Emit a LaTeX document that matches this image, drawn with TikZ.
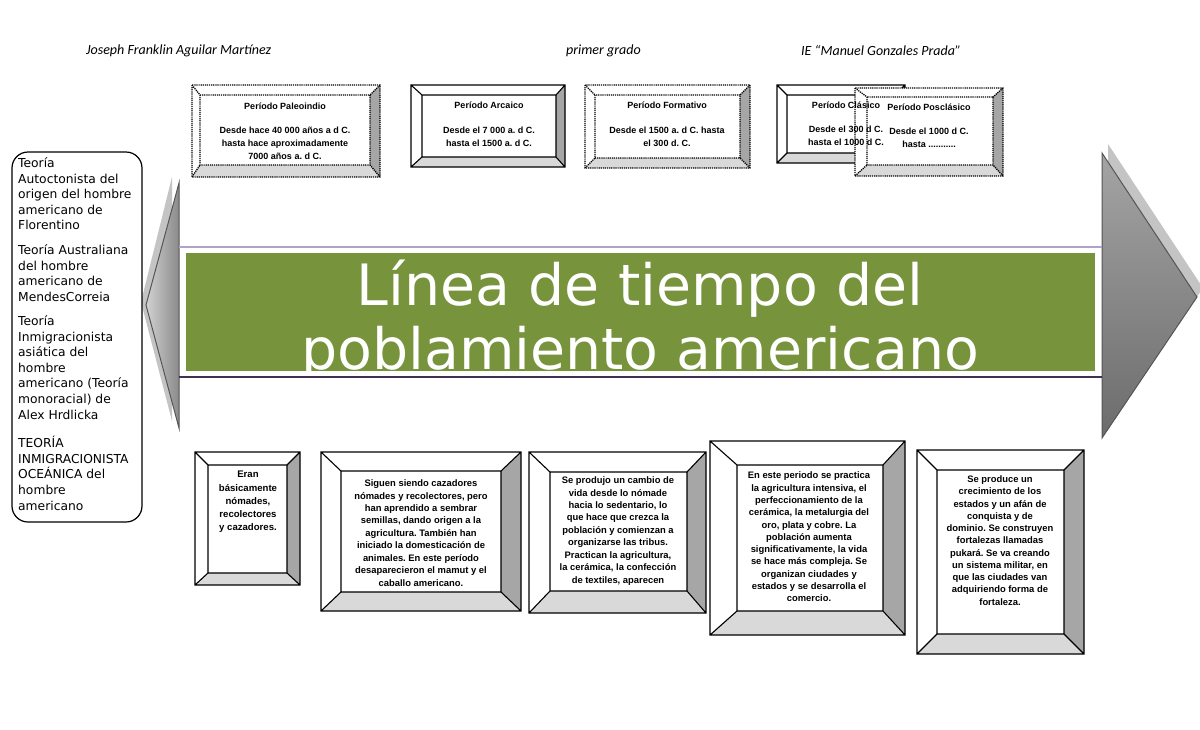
\documentclass[tikz,border=0pt]{standalone}
\usepackage{fontspec}
\newfontfamily\arialf{Liberation Sans}
\newfontfamily\dejavuf{DejaVu Sans}
\newfontfamily\calibrif{Carlito}
\frenchspacing
\definecolor{bandgreen}{HTML}{77933C}
\definecolor{lavline}{HTML}{B3A2C7}
\definecolor{darkline}{HTML}{403151}
\definecolor{bevR}{HTML}{A6A6A6}
\definecolor{bevB}{HTML}{D9D9D9}
\definecolor{arrShadow}{HTML}{C4C4C4}
\definecolor{arrLight}{HTML}{D2D2D2}
\definecolor{arrDark}{HTML}{8A8A8A}
\definecolor{arrTop}{HTML}{A4A4A4}
\definecolor{arrMid}{HTML}{CDCDCD}
\definecolor{arrBot}{HTML}{6C6C6C}
\definecolor{arrEdge}{HTML}{555555}
\newcommand\bevelframe[9]{%
  \fill[white] (#1,#2) rectangle (#3,#4);
  \fill[bevR] (#3,#2) -- (#3,#4) -- (#7,#8) -- (#7,#6) -- cycle;
  \fill[bevB] (#1,#4) -- (#3,#4) -- (#7,#8) -- (#5,#8) -- cycle;
  \draw[#9] (#1,#2) rectangle (#3,#4) (#5,#6) rectangle (#7,#8)
    (#1,#2) -- (#5,#6) (#3,#2) -- (#7,#6) (#3,#4) -- (#7,#8) (#1,#4) -- (#5,#8);
}
\tikzset{
  solidframe/.style={draw=black, line width=1.1pt},
  dotframe/.style={draw=black, line width=1.3pt, dash pattern=on 1.2pt off 0.9pt},
  toptext/.style={font=\arialf\bfseries\fontsize{9}{13}\selectfont, align=center, inner sep=0pt},
  bottext/.style 2 args={font=\arialf\bfseries\fontsize{#1}{#2}\selectfont, align=center, inner sep=0pt},
  header/.style={font=\calibrif\itshape\fontsize{14}{16}\selectfont, anchor=west, inner sep=0pt},
  titletext/.style={font=\dejavuf\fontsize{57}{64}\selectfont, text=white, anchor=base, inner sep=0pt},
  arrowedge/.style={draw=arrEdge, line width=1pt},
}
\begin{document}
\begin{tikzpicture}[x=1pt,y=-1pt]
\useasboundingbox (0,0) rectangle (1200,729);
\fill[white] (0,0) rectangle (1200,729);

% header
\node[header] (author) at (86,51) {Joseph Franklin Aguilar Martínez};
\node[header] (grade) at (566,51) {primer grado};
\node[header] (school) at (801,51) {IE “Manuel Gonzales Prada”};

% left arrow
\fill[arrShadow] (172,177) -- (141,302) -- (172,421) -- cycle;
\shade[left color=arrLight, right color=arrDark] (179,183) -- (146,305) -- (179,428) -- cycle;
\draw[arrowedge] (179,183) -- (146,305) -- (179,428) -- cycle;

% right arrow
\fill[arrShadow] (1108,144) -- (1203,288) -- (1108,429) -- cycle;
\shade[top color=arrTop, middle color=arrMid, bottom color=arrBot] (1102,153) -- (1197,297) -- (1102,438) -- cycle;
\draw[arrowedge] (1102,153) -- (1197,297) -- (1102,438) -- cycle;

% band
\draw[lavline, line width=1.6pt] (179,247) -- (1102,247);
\draw[darkline, line width=2pt] (179,377) -- (1102,377);
\fill[bandgreen] (186,253) rectangle (1095,371);
\begin{scope}
  \clip (186,253) rectangle (1095,371);
  \node[titletext] (title1) at (640,305) {Línea de tiempo del};
  \node[titletext] (title2) at (640,369) {poblamiento americano};
\end{scope}

% top frames
\bevelframe{192}{85}{380}{177}{200}{95}{370}{165}{dotframe}
\node[toptext] (paleo) at (285,131) {Período Paleoindio\\[11pt]Desde hace 40 000 años a d C.\\hasta hace aproximadamente\\7000 años a. d C.};
\bevelframe{411}{85}{565}{167}{422}{95}{556}{157}{solidframe}
\node[toptext] (arcaico) at (489,124) {Período Arcaico\\[11.5pt]Desde el 7 000 a. d C.\\hasta el 1500 a. d C.};
\bevelframe{585}{85}{750}{168}{595}{95}{740}{158}{dotframe}
\node[toptext] (formativo) at (667,124) {Período Formativo\\[11.5pt]Desde el 1500 a. d C. hasta\\el 300 d. C.};
\bevelframe{777}{85}{905}{163}{787}{95}{895}{153}{solidframe}
\bevelframe{855}{88}{1003}{176}{867}{97}{993}{165}{dotframe}
\node[toptext] (clasico) at (846,124) {Período Clásico\\[11pt]Desde el 300 d C.\\hasta el 1000 d C.};
\node[toptext] (posclasico) at (929,126) {Período Posclásico\\[11pt]Desde el 1000 d C.\\hasta ...........};

% bottom frames
\bevelframe{195}{452}{300}{585}{208}{465}{287}{573}{solidframe}
\node[bottext={9.6}{13.2}] (b1) at (248,502) {Eran\\básicamente\\nómades,\\recolectores\\y cazadores.};
\bevelframe{321}{452}{521}{611}{341}{471}{501}{592}{solidframe}
\node[bottext={9.4}{12.45}] (b2) at (421,533) {Siguen siendo cazadores\\nómades y recolectores, pero\\han aprendido a sembrar\\semillas, dando origen a la\\agricultura. También han\\iniciado la domesticación de\\animales. En este período\\desaparecieron el mamut y el\\caballo americano.};
\bevelframe{529}{452}{706}{613}{550}{472}{687}{591}{solidframe}
\node[bottext={9.4}{12.45}] (b3) at (618,531) {Se produjo un cambio de\\vida desde lo nómade\\hacia lo sedentario, lo\\que hace que crezca la\\población y comienzan a\\organizarse las tribus.\\Practican la agricultura,\\la cerámica, la confección\\de textiles, aparecen};
\bevelframe{710}{441}{905}{635}{737}{465}{883}{611}{solidframe}
\node[bottext={9.4}{12.3}] (b4) at (809,537) {En este periodo se practica\\la agricultura intensiva, el\\perfeccionamiento de la\\cerámica, la metalurgia del\\oro, plata y cobre. La\\población aumenta\\significativamente, la vida\\se hace más compleja. Se\\organizan ciudades y\\estados y se desarrolla el\\comercio.};
\bevelframe{917}{450}{1084}{654}{937}{470}{1064}{634}{solidframe}
\node[bottext={9.4}{12.25}] (b5) at (1000,540.5) {Se produce un\\crecimiento de los\\estados y un afán de\\conquista y de\\dominio. Se construyen\\fortalezas llamadas\\pukará. Se va creando\\un sistema militar, en\\que las ciudades van\\adquiriendo forma de\\fortaleza.};

% left rounded box
\draw[line width=1.2pt, rounded corners=16pt, fill=white] (12,152) rectangle (142,522);
\node[font=\dejavuf\fontsize{12.3}{15.6}\selectfont, align=left, anchor=north west, inner sep=0pt] (theories) at (18,157.5)
 {Teoría\\Autoctonista del\\origen del hombre\\americano de\\Florentino\\[9pt]Teoría Australiana\\del hombre\\americano de\\MendesCorreia\\[8.5pt]Teoría\\Inmigracionista\\asiática del\\hombre\\americano (Teoría\\monoracial) de\\Alex Hrdlicka\\[13pt]TEORÍA\\INMIGRACIONISTA\\OCEÁNICA del\\hombre\\americano};
\end{tikzpicture}
\end{document}
